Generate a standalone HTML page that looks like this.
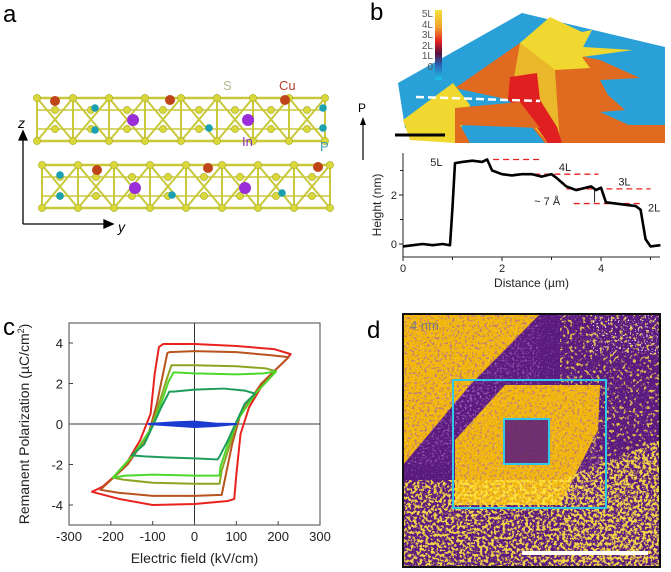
<!DOCTYPE html>
<html><head><meta charset="utf-8"><style>
html,body{margin:0;padding:0;background:#fff;}
svg{display:block;font-family:"Liberation Sans",Arial,sans-serif;}
</style></head><body>
<svg id="fig" width="671" height="572" viewBox="0 0 671 572">
<defs>
<filter id="speck" x="0" y="0" width="100%" height="100%">
<feTurbulence type="fractalNoise" baseFrequency="0.35" numOctaves="2" seed="3"/>
<feColorMatrix type="matrix" values="0 0 0 0 1  0 0 0 0 0.78  0 0 0 0 0.05  0 0 0 9 -4.3"/>
</filter>
<filter id="speckS" x="0" y="0" width="100%" height="100%">
<feTurbulence type="fractalNoise" baseFrequency="0.3" numOctaves="2" seed="5"/>
<feColorMatrix type="matrix" values="0 0 0 0 1  0 0 0 0 0.78  0 0 0 0 0.05  0 0 0 9 -5.2"/>
</filter>
<filter id="speckP" x="0" y="0" width="100%" height="100%">
<feTurbulence type="fractalNoise" baseFrequency="0.4" numOctaves="2" seed="11"/>
<feColorMatrix type="matrix" values="0 0 0 0 0.35  0 0 0 0 0.1  0 0 0 0 0.48  0 0 0 10 -5.6"/>
</filter>
<filter id="speckW" x="0" y="0" width="100%" height="100%">
<feTurbulence type="fractalNoise" baseFrequency="0.6" numOctaves="1" seed="7"/>
<feColorMatrix type="matrix" values="0 0 0 0 1  0 0 0 0 1  0 0 0 0 1  0 0 0 12 -7.5"/>
</filter>
<linearGradient id="cbar" x1="0" y1="0" x2="0" y2="1">
<stop offset="0" stop-color="#f5e23a"/><stop offset="0.25" stop-color="#f0a030"/>
<stop offset="0.45" stop-color="#e02020"/><stop offset="0.62" stop-color="#5a1040"/>
<stop offset="0.78" stop-color="#2a60b0"/><stop offset="1" stop-color="#20c0e8"/>
</linearGradient>
<clipPath id="dclip"><rect x="403" y="314" width="257" height="253"/></clipPath>
<clipPath id="lowclip"><polygon points="403,480 560,480 660,440 660,567 403,567"/></clipPath>
</defs>

<!-- PANEL A -->
<g>
<text x="3" y="22" font-size="24">a</text>
<g id="lattice"></g>
<text x="223" y="90" font-size="13" fill="#b8b890">S</text>
<text x="279" y="90" font-size="13" fill="#b8402a">Cu</text>
<text x="242" y="146" font-size="13" fill="#8a30c0">In</text>
<text x="320" y="151" font-size="13" fill="#40a0b0">P</text>
<g stroke="#000" stroke-width="1.3" fill="#000">
<line x1="23" y1="224" x2="23" y2="137"/><polygon points="19,140 23,131 27,140"/>
<line x1="23" y1="224" x2="106" y2="224"/><polygon points="104,220 113,224 104,228"/>
</g>
<text x="18" y="128" font-size="14" font-style="italic">z</text>
<text x="118" y="232" font-size="14" font-style="italic">y</text>
</g>

<!-- PANEL B -->
<g>
<text x="370" y="20" font-size="24">b</text>
<g>
<polygon points="398,83 522,13 665,47 665,143 455,143 405,128" fill="#2aa0d8"/>
<polygon points="455,88 520,43 600,60 640,78 600,80 608,95 625,110 600,112 640,130 600,125 590,143 545,143 510,100" fill="#e06a20"/>
<polygon points="520,43 550,17 582,32 592,30 583,47 633,50 582,57 590,68 555,70" fill="#f0d830"/>
<polygon points="520,43 555,70 560,143 548,143 510,100" fill="#f0d830" opacity="0.7"/>
<polygon points="403,120 453,83 470,105 455,143 410,140" fill="#f0d830"/>
<polygon points="510,77 537,73 540,100 557,127 562,143 548,143 530,118 508,100" fill="#e02020"/>
<polygon points="455,108 520,102 540,128 460,125 470,143 455,143" fill="#e06a20"/>
<polygon points="560,143 600,125 665,125 665,143" fill="#e06a20"/>
<line x1="416" y1="97" x2="540" y2="101" stroke="#fff" stroke-width="2.5" stroke-dasharray="8,4"/>
<line x1="395" y1="135" x2="445" y2="135" stroke="#000" stroke-width="3"/>
</g>
<rect x="435" y="10" width="7" height="70" fill="url(#cbar)"/>
<g font-size="10" fill="#555" text-anchor="end">
<text x="433" y="17">5L</text><text x="433" y="28">4L</text><text x="433" y="38">3L</text><text x="433" y="49">2L</text><text x="433" y="59">1L</text><text x="433" y="70">0</text>
</g>
<line x1="363" y1="160" x2="363" y2="123" stroke="#000" stroke-width="1.2"/>
<polygon points="360,125 363,117 366,125" fill="#000"/>
<text x="358" y="112" font-size="12">P</text>
<g id="chartB"></g>
</g>

<!-- PANEL C -->
<g>
<text x="3" y="335" font-size="24">c</text>
<g id="chartC"></g>
</g>

<!-- PANEL D -->
<g>
<text x="367" y="338" font-size="24">d</text>
<g clip-path="url(#dclip)">
<rect x="403" y="314" width="257" height="253" fill="#5a1a7e"/>
<rect x="560" y="314" width="100" height="253" filter="url(#speckS)" opacity="0.8"/>
<polygon points="403,314 540,314 470,385 403,465" fill="#f2b70a"/>
<polygon points="403,314 540,314 470,385 403,465" filter="url(#speckP)" opacity="0.6"/>
<polygon points="455,440 505,385 600,385 598,430 560,505 455,505" fill="#f2b70a"/>
<polygon points="455,440 505,385 600,385 598,430 560,505 455,505" filter="url(#speckP)" opacity="0.5"/>
<g clip-path="url(#lowclip)"><rect x="403" y="430" width="257" height="137" filter="url(#speck)" opacity="0.9"/></g>
<rect x="590" y="314" width="70" height="40" filter="url(#speckW)" opacity="0.9"/>
<rect x="403" y="314" width="257" height="253" filter="url(#speckW)" opacity="0.25"/>
<polygon points="505,420 548,420 548,463 505,463" fill="#5a1a7e" opacity="0.85"/>
</g>
<rect x="403" y="314" width="257" height="253" fill="none" stroke="#111" stroke-width="2"/>
<text x="410" y="330" font-size="13" fill="#7a7a7a">4 nm</text>
<rect x="453" y="380" width="153" height="128" fill="none" stroke="#2ec8e8" stroke-width="2"/>
<rect x="504" y="419" width="45" height="45" fill="none" stroke="#2ec8e8" stroke-width="2"/>
<rect x="522" y="551" width="126" height="4" fill="#fff"/>
</g>
</svg>
<script>
// ---------- Panel B data ----------
const distB = [0,0.2,0.4,0.6,0.8,0.95,1.0,1.05,1.2,1.4,1.6,1.7,1.8,2.0,2.2,2.4,2.6,2.8,3.0,3.1,3.3,3.5,3.7,3.8,3.9,4.0,4.1,4.3,4.5,4.7,4.8,4.9,5.0,5.2];
const heightB = [-0.1,-0.05,0,-0.05,0,-0.05,1.5,3.3,3.35,3.4,3.35,3.45,3.0,2.85,2.8,2.85,2.85,2.75,2.85,2.7,2.35,2.2,2.3,2.35,2.2,2.3,1.7,1.65,1.6,1.55,1.4,0.2,-0.1,-0.05];
const xTicksB = [0,2,4];
const yTicksB = [0,2];
const levelY = [3.45,2.85,2.25,1.65];
const levelX0 = [1.82,2.25,3.3,3.45];
const levelX1 = [2.77,3.95,5.0,4.8];

// ---------- Panel C data ----------
const xTicksC = [-300,-200,-100,0,100,200,300];
const yTicksC = [-4,-2,0,2,4];
const loopColors = ["#e8231e","#b8541e","#8da422","#4ed82c","#1e9c5c","#1a3ad0"];
const loopRed = [[-75,3.95],[0,3.95],[100,3.85],[190,3.7],[230,3.45],[220,3.2],[170,2.2],[130,0.8],[110,-0.5],[100,-2.5],[95,-3.7],[80,-3.8],[0,-3.95],[-100,-4.0],[-180,-3.7],[-245,-3.35],[-220,-3.1],[-170,-2.2],[-130,-0.8],[-105,0.5],[-95,2.5],[-85,3.8]];
const loopBrown = [[-60,3.55],[0,3.6],[100,3.55],[180,3.4],[225,3.3],[160,2.0],[110,0.5],[90,-1.0],[75,-2.5],[65,-3.5],[0,-3.55],[-100,-3.55],[-180,-3.4],[-225,-3.25],[-160,-2.0],[-110,-0.5],[-90,1.0],[-75,2.5],[-65,3.5]];
const loopOlive = [[-55,2.9],[0,2.9],[100,2.85],[170,2.75],[195,2.6],[150,1.6],[105,0.3],[85,-1.0],[65,-2.3],[60,-2.95],[0,-2.95],[-100,-2.9],[-170,-2.75],[-195,-2.65],[-150,-1.6],[-105,-0.3],[-85,1.0],[-65,2.3]];
const loopLight = [[-50,2.55],[0,2.5],[100,2.45],[165,2.5],[195,2.6],[145,1.5],[100,0.1],[80,-1.0],[62,-2.1],[60,-2.55],[0,-2.55],[-100,-2.5],[-165,-2.55],[-195,-2.65],[-145,-1.5],[-100,-0.1],[-80,1.0],[-62,2.1]];
const loopDark = [[-50,1.6],[0,1.7],[70,1.75],[120,1.65],[145,1.5],[120,1.0],[100,0.1],[80,-0.8],[60,-1.6],[55,-1.75],[0,-1.7],[-70,-1.65],[-120,-1.6],[-150,-1.55],[-120,-1.0],[-100,-0.1],[-80,0.8],[-60,1.6]];
const loopBlue = [[-110,0],[-50,0.08],[0,0.12],[50,0.02],[100,0],[50,-0.1],[0,-0.15],[-50,-0.08]];

const NS = "http://www.w3.org/2000/svg";
function mk(tag, attrs, parent){ const e=document.createElementNS(NS,tag); for(const k in attrs) e.setAttribute(k,attrs[k]); parent.appendChild(e); return e; }

// ---------- lattice (panel a) ----------
(function(){
  const g=document.getElementById('lattice');
  function layer(x0,yT,yB,n){
    const pts=[];
    for(let k=0;k<n;k++){
      const x=x0+k*36;
      pts.push([x,yT],[x+18,yT+12],[x,yB],[x+18,yB-12]);
      mk('line',{x1:x,y1:yT,x2:x+36,y2:yT,stroke:'#c8c83a','stroke-width':2.5},g);
      mk('line',{x1:x,y1:yB,x2:x+36,y2:yB,stroke:'#c8c83a','stroke-width':2.5},g);
      mk('line',{x1:x,y1:yT,x2:x,y2:yB,stroke:'#c8c83a','stroke-width':2},g);
      mk('line',{x1:x,y1:yT,x2:x+36,y2:yB,stroke:'#c8c83a','stroke-width':2},g);
      mk('line',{x1:x,y1:yB,x2:x+36,y2:yT,stroke:'#c8c83a','stroke-width':2},g);
      mk('line',{x1:x,y1:yT+12,x2:x+36,y2:yT+12,stroke:'#c8c83a','stroke-width':1.5},g);
      mk('line',{x1:x,y1:yB-12,x2:x+36,y2:yB-12,stroke:'#c8c83a','stroke-width':1.5},g);
    }
    mk('line',{x1:x0+n*36,y1:yT,x2:x0+n*36,y2:yB,stroke:'#c8c83a','stroke-width':2},g);
    pts.push([x0+n*36,yT],[x0+n*36,yB]);
    pts.forEach(p=>mk('circle',{cx:p[0],cy:p[1],r:3.6,fill:'#d8d83a',stroke:'#a8a820','stroke-width':0.6},g));
  }
  layer(37,98,141,8);
  layer(42,165,208,8);
  const cu=[[55,101],[170,100],[285,100],[97,170],[208,168],[318,167]];
  const inn=[[133,120],[248,120],[135,188],[245,188]];
  const p=[[95,108],[95,130],[209,128],[323,108],[323,128],[60,175],[60,196],[172,195],[282,193]];
  cu.forEach(a=>mk('circle',{cx:a[0],cy:a[1],r:5,fill:'#c0441a'},g));
  inn.forEach(a=>mk('circle',{cx:a[0],cy:a[1],r:6,fill:'#9a2ed8'},g));
  p.forEach(a=>mk('circle',{cx:a[0],cy:a[1],r:3.8,fill:'#1aa0b0'},g));
})();

// ---------- Panel B chart ----------
(function(){
  const g=document.getElementById('chartB');
  const L=403,R=660,T=153,B=257;
  const xB=v=>L+v*49.5;
  const yB=v=>244-v*24.5;
  mk('line',{x1:L,y1:T,x2:L,y2:B,stroke:'#222','stroke-width':1},g);
  mk('line',{x1:L,y1:B,x2:R,y2:B,stroke:'#222','stroke-width':1},g);
  xTicksB.forEach(v=>{
    const t=mk('text',{x:xB(v),y:B+15,'font-size':11,'text-anchor':'middle',fill:'#222'},g); t.textContent=v;
    
    
    mk('line',{x1:xB(v),y1:B,x2:xB(v),y2:B+4,stroke:'#222'},g);
  });
  [1,3,5].forEach(v=>mk('line',{x1:xB(v),y1:B,x2:xB(v),y2:B+3,stroke:'#222'},g));
  yTicksB.forEach(v=>{
    const t=mk('text',{x:L-6,y:yB(v)+4,'font-size':11,'text-anchor':'end',fill:'#222'},g); t.textContent=v;
    
    
    mk('line',{x1:L-4,y1:yB(v),x2:L,y2:yB(v),stroke:'#222'},g);
  });
  [1,3].forEach(v=>mk('line',{x1:L-3,y1:yB(v),x2:L,y2:yB(v),stroke:'#222'},g));
  const xl=mk('text',{x:(L+R)/2,y:B+30,'font-size':12,'text-anchor':'middle',fill:'#222'},g); xl.textContent='Distance (µm)';
  
  
  const yl=mk('text',{x:0,y:0,'font-size':12,'text-anchor':'middle',fill:'#222',transform:`translate(${L-22},${(T+B)/2}) rotate(-90)`},g); yl.textContent='Height (nm)';
  
  
  levelY.forEach((v,i)=>{
    const l=mk('line',{x1:xB(levelX0[i]),y1:yB(v),x2:xB(levelX1[i]),y2:yB(v),stroke:'#e82020','stroke-width':1.3,'stroke-dasharray':'6,4'},g);
    
    
  });
  const pts=distB.map((d,i)=>xB(d)+','+yB(heightB[i])).join(' ');
  const pl=mk('polyline',{points:pts,fill:'none',stroke:'#000','stroke-width':2.6,'stroke-linejoin':'round'},g);
  
  
  const labs=[['5L',0.55,3.35],['4L',3.15,3.15],['3L',4.35,2.55],['2L',4.95,1.5],['~ 7 Å',2.65,1.75]];
  labs.forEach(a=>{const t=mk('text',{x:xB(a[1]),y:yB(a[2])+4,'font-size':11,fill:'#222'},g); t.textContent=a[0];
    
    });
  mk('line',{x1:xB(3.87),y1:yB(2.2),x2:xB(3.87),y2:yB(1.7),stroke:'#222','stroke-width':1},g);
})();

// ---------- Panel C chart ----------
(function(){
  const g=document.getElementById('chartC');
  const L=69,R=320,T=323,B=525;
  const xC=v=>L+(v+300)*(R-L)/600;
  const yC=v=>424-v*20.25;
  mk('rect',{x:L,y:T,width:R-L,height:B-T,fill:'none',stroke:'#444','stroke-width':1},g);
  mk('line',{x1:xC(0),y1:T,x2:xC(0),y2:B,stroke:'#333','stroke-width':1},g);
  mk('line',{x1:L,y1:yC(0),x2:R,y2:yC(0),stroke:'#333','stroke-width':1},g);
  xTicksC.forEach(v=>{
    const t=mk('text',{x:xC(v),y:B+16,'font-size':13,'text-anchor':'middle',fill:'#222'},g); t.textContent=v;
    
    
    mk('line',{x1:xC(v),y1:B,x2:xC(v),y2:B-4,stroke:'#444'},g);
  });
  yTicksC.forEach(v=>{
    const t=mk('text',{x:L-6,y:yC(v)+5,'font-size':13,'text-anchor':'end',fill:'#222'},g); t.textContent=v;
    
    
    mk('line',{x1:L,y1:yC(v),x2:L+4,y2:yC(v),stroke:'#444'},g);
  });
  const xl=mk('text',{x:(L+R)/2,y:B+38,'font-size':14,'text-anchor':'middle',fill:'#222'},g); xl.textContent='Electric field (kV/cm)';
  
  
  const yl=mk('text',{x:0,y:0,'font-size':14,'text-anchor':'middle',fill:'#222',transform:`translate(${L-40},${(T+B)/2}) rotate(-90)`},g);
  yl.innerHTML='Remanent Polarization (µC/cm<tspan dy="-5" font-size="9">2</tspan><tspan dy="5">)</tspan>';
  
  
  const loops=[loopRed,loopBrown,loopOlive,loopLight,loopDark,loopBlue];
  loops.forEach((lp,i)=>{
    const pts=lp.map(p=>xC(p[0])+','+yC(p[1])).join(' ');
    const pg=mk('polygon',{points:pts,fill:i==5?loopColors[i]:'none',stroke:loopColors[i],'stroke-width':2,'stroke-linejoin':'round'},g);
    
    
  });
})();
</script>
</body></html>
